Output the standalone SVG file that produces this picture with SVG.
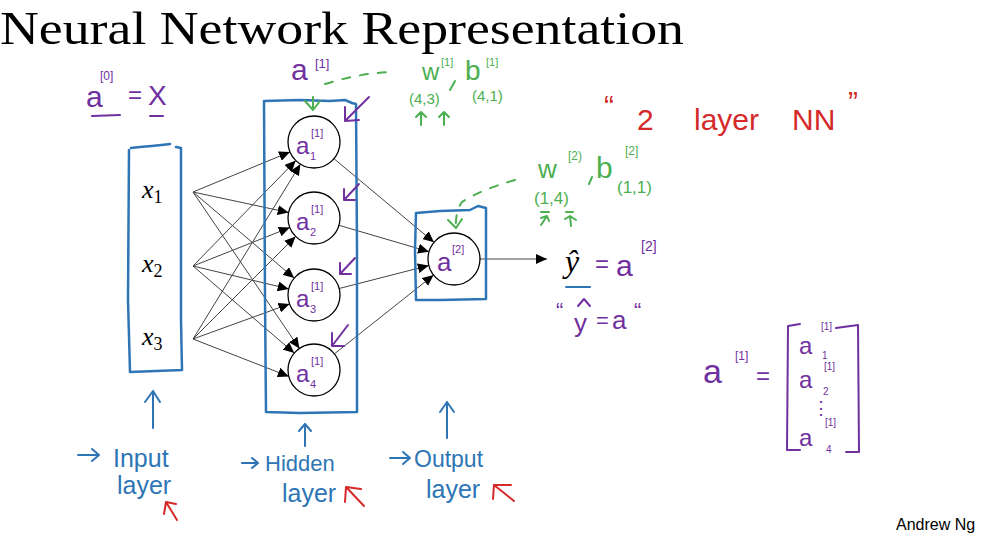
<svg xmlns="http://www.w3.org/2000/svg" width="993" height="537" viewBox="0 0 993 537">
<defs>
<style>
.title{font-family:"Liberation Serif",serif;font-size:46px;fill:#000}
.math{font-family:"Liberation Serif",serif;font-style:italic;fill:#000}
.sub{font-family:"Liberation Serif",serif;font-style:normal}
.hw{font-family:"Liberation Sans",sans-serif}
.pur{fill:#7030a0}
.grn{fill:#4caf50}
.blu{fill:#2e75b6}
.red{fill:#d42a2a}
.box{fill:none;stroke:#2e75b6;stroke-width:2.5;stroke-linejoin:round;stroke-linecap:round}
.node{fill:#fff;stroke:#000;stroke-width:1.3}
.edge{stroke:#444;stroke-width:1;fill:none;marker-end:url(#tri)}
.pstroke{stroke:#7030a0;stroke-width:2;fill:none;stroke-linecap:round;stroke-linejoin:round}
.gstroke{stroke:#4caf50;stroke-width:2;fill:none;stroke-linecap:round;stroke-linejoin:round}
.bstroke{stroke:#2e75b6;stroke-width:2;fill:none;stroke-linecap:round;stroke-linejoin:round}
.rstroke{stroke:#d42a2a;stroke-width:2;fill:none;stroke-linecap:round;stroke-linejoin:round}
.dash{stroke-dasharray:8 10}
</style>
<marker id="tri" markerUnits="userSpaceOnUse" markerWidth="12" markerHeight="10" refX="11" refY="5" orient="auto">
<path d="M0,0 L11,5 L0,10 z" fill="#000"/>
</marker>
</defs>
<rect width="993" height="537" fill="#fff"/>
<text class="title" x="0" y="44" textLength="684" lengthAdjust="spacingAndGlyphs">Neural Network Representation</text>

<g id="connectors">
<line class="edge" x1="193" y1="192" x2="290" y2="151.9"/>
<line class="edge" x1="193" y1="192" x2="288.6" y2="212.5"/>
<line class="edge" x1="193" y1="192" x2="294.2" y2="278.1"/>
<line class="edge" x1="193" y1="192" x2="299.4" y2="348.5"/>
<line class="edge" x1="193" y1="266" x2="295.8" y2="160.6"/>
<line class="edge" x1="193" y1="266" x2="289.8" y2="227.6"/>
<line class="edge" x1="193" y1="266" x2="288.7" y2="288.9"/>
<line class="edge" x1="193" y1="266" x2="294.3" y2="353.1"/>
<line class="edge" x1="193" y1="339" x2="300.4" y2="164.2"/>
<line class="edge" x1="193" y1="339" x2="295.6" y2="236.4"/>
<line class="edge" x1="193" y1="339" x2="289.6" y2="303.9"/>
<line class="edge" x1="193" y1="339" x2="288.8" y2="376.4"/>
<line class="edge" x1="334" y1="158.7" x2="434" y2="242.3"/>
<line class="edge" x1="339" y1="225.3" x2="429" y2="251.7"/>
<line class="edge" x1="339.2" y1="288.5" x2="428.8" y2="265.5"/>
<line class="edge" x1="334.4" y1="353.9" x2="433.6" y2="275.1"/>
<line class="edge" x1="480" y1="259" x2="547" y2="259"/>
</g>

<g id="input-layer">
<path class="box" d="M131,148 C150,146 165,145 170,144 M176,147 L181,148 L181,320 L182,370 L130,372 L128,300 L129,150"/>
<text class="math" x="142" y="198" font-size="26">x<tspan class="sub" font-size="18" dy="5">1</tspan></text>
<text class="math" x="142" y="272" font-size="26">x<tspan class="sub" font-size="18" dy="5">2</tspan></text>
<text class="math" x="142" y="345" font-size="26">x<tspan class="sub" font-size="18" dy="5">3</tspan></text>
</g>

<g id="hidden-layer">
<path class="box" d="M264,101 L300,100 L330,101 L345,100 L352,103 L356,104 L357,250 L357,412 L300,413 L266,412 L265,300 L264,101"/>
<circle class="node" cx="314" cy="142" r="26"/>
<circle class="node" cx="314" cy="218" r="26"/>
<circle class="node" cx="314" cy="295" r="26"/>
<circle class="node" cx="314" cy="370" r="26"/>
<g class="hw pur">
<text x="296" y="154" font-size="24">a</text><text x="311" y="137" font-size="11">[1]</text><text x="310" y="160" font-size="11">1</text>
<text x="296" y="230" font-size="24">a</text><text x="311" y="213" font-size="11">[1]</text><text x="310" y="236" font-size="11">2</text>
<text x="296" y="307" font-size="24">a</text><text x="311" y="290" font-size="11">[1]</text><text x="310" y="313" font-size="11">3</text>
<text x="296" y="382" font-size="24">a</text><text x="311" y="365" font-size="11">[1]</text><text x="310" y="388" font-size="11">4</text>
</g>
<path class="pstroke" d="M369,97 L345,121 M345,107 L345,121 L359,120"/>
<path class="pstroke" d="M359,184 L344,200 M344,189 L344,200 L355,200"/>
<path class="pstroke" d="M355,258 L340,274 M340,263 L340,274 L351,274"/>
<path class="pstroke" d="M348,325 L332,346 M332,333 L332,346 L344,346"/>
</g>

<g id="output-layer">
<path class="box" d="M416,213 L440,211 L470,210 L478,206 L486,208 L486,260 L486,299 L440,300 L416,300 L415,250 L416,213"/>
<circle class="node" cx="454" cy="259" r="26"/>
<text class="hw pur" x="437" y="271" font-size="26">a</text>
<text class="hw pur" x="452" y="253" font-size="11">[2]</text>
</g>

<g id="annotations">
<text class="hw pur" x="86" y="107" font-size="30">a</text>
<text class="hw pur" x="100" y="80" font-size="12">[0]</text>
<text class="hw pur" x="128" y="103" font-size="24">=</text>
<text class="hw pur" x="148" y="105" font-size="28">X</text>
<path class="pstroke" d="M92,116 L120,115 M150,116 L163,116"/>

<text class="hw pur" x="291" y="80" font-size="30">a</text>
<text class="hw pur" x="315" y="68" font-size="13">[1]</text>
<path class="gstroke dash" d="M325,84 Q360,73 392,72"/>
<path class="gstroke" d="M313,97 L313,110 M305,101 L313,110 L320,101"/>

<text class="hw grn" x="422" y="80" font-size="24">w</text>
<text class="hw grn" x="441" y="66" font-size="11">[1]</text>
<path class="gstroke" d="M455,81 L450,90"/>
<text class="hw grn" x="465" y="80" font-size="28">b</text>
<text class="hw grn" x="486" y="66" font-size="11">[1]</text>
<text class="hw grn" x="409" y="104" font-size="15">(4,3)</text>
<text class="hw grn" x="472" y="101" font-size="15">(4,1)</text>
<path class="gstroke" d="M421,125 L421,112 M416,117 L421,112 L426,117 M444,125 L444,112 M439,117 L444,112 L449,117"/>

<g class="hw red" font-size="30">
<text x="604" y="116">“</text>
<text x="637" y="130">2</text>
<text x="694" y="130">layer</text>
<text x="792" y="130">NN</text>
<text x="848" y="112">”</text>
</g>

<path class="gstroke dash" d="M515,180 Q480,190 462,202 Q455,212 456,228"/>
<path class="gstroke" d="M448,220 L456,228 L462,219"/>
<text class="hw grn" x="538" y="178" font-size="26">w</text>
<text class="hw grn" x="568" y="160" font-size="12">[2)</text>
<path class="gstroke" d="M592,177 L589,184"/>
<text class="hw grn" x="596" y="178" font-size="30">b</text>
<text class="hw grn" x="625" y="155" font-size="12">[2]</text>
<text class="hw grn" x="534" y="204" font-size="17">(1,4)</text>
<text class="hw grn" x="617" y="193" font-size="17">(1,1)</text>
<path class="gstroke" d="M541,212 L549,212 M566,212 L573,212 M541,225 L547,216 M541,218 L547,216 L549,221 M571,226 L570,216 M565,219 L570,216 L576,220"/>

<text class="math" x="565" y="272" font-size="32">ŷ</text>
<path class="bstroke" d="M566,287 L590,287"/>
<text class="hw pur" x="595" y="272" font-size="24">=</text>
<text class="hw pur" x="616" y="276" font-size="30">a</text>
<text class="hw pur" x="641" y="251" font-size="14">[2]</text>
<text class="hw pur" x="556" y="318" font-size="22">“</text>
<path class="pstroke" d="M578,306 L584,299 L590,306"/>
<text class="hw pur" x="574" y="332" font-size="26">y</text>
<text class="hw pur" x="596" y="328" font-size="22">=</text>
<text class="hw pur" x="612" y="329" font-size="26">a</text>
<text class="hw pur" x="634" y="318" font-size="22">“</text>

<text class="hw pur" x="703" y="383" font-size="34">a</text>
<text class="hw pur" x="735" y="360" font-size="12">[1]</text>
<text class="hw pur" x="756" y="384" font-size="24">=</text>
<path class="pstroke" d="M800,324 L788,326 L787,450 L800,450 M836,328 L858,325 L859,452 L846,452"/>
<text class="hw pur" x="799" y="354" font-size="24">a</text><text class="hw pur" x="821" y="330" font-size="10">[1]</text><text class="hw pur" x="822" y="359" font-size="10">1</text>
<text class="hw pur" x="799" y="388" font-size="24">a</text><text class="hw pur" x="824" y="370" font-size="10">[1]</text><text class="hw pur" x="823" y="395" font-size="10">2</text>
<text class="hw pur" x="812" y="414" font-size="18">⋮</text>
<text class="hw pur" x="799" y="446" font-size="24">a</text><text class="hw pur" x="825" y="426" font-size="10">[1]</text><text class="hw pur" x="826" y="453" font-size="10">4</text>

<path class="bstroke" d="M153,428 L153,391 M145,402 L153,391 L160,402"/>
<path class="bstroke" d="M305,446 L305,424 M299,431 L305,424 L311,431"/>
<path class="bstroke" d="M447,438 L447,402 M440,412 L447,402 L454,412"/>
<path class="bstroke" d="M78,455 L98,455 M92,449 L99,455 L92,461"/>
<text class="hw blu" x="113" y="467" font-size="25">Input</text>
<text class="hw blu" x="117" y="494" font-size="25">layer</text>
<path class="bstroke" d="M242,463 L257,463 M252,458 L258,463 L252,468"/>
<text class="hw blu" x="265" y="471" font-size="22">Hidden</text>
<text class="hw blu" x="282" y="502" font-size="25">layer</text>
<path class="bstroke" d="M390,458 L409,458 M403,452 L410,458 L403,464"/>
<text class="hw blu" x="414" y="467" font-size="23">Output</text>
<text class="hw blu" x="426" y="498" font-size="25">layer</text>
<path class="rstroke" d="M177,520 L166,502 M164,514 L166,502 L176,504"/>
<path class="rstroke" d="M364,506 L346,487 M345,502 L346,487 L361,489"/>
<path class="rstroke" d="M514,501 L494,485 M493,499 L494,485 L511,485"/>
</g>

<text x="896" y="530" font-family="Liberation Sans, sans-serif" font-size="16" fill="#000">Andrew Ng</text>
</svg>
